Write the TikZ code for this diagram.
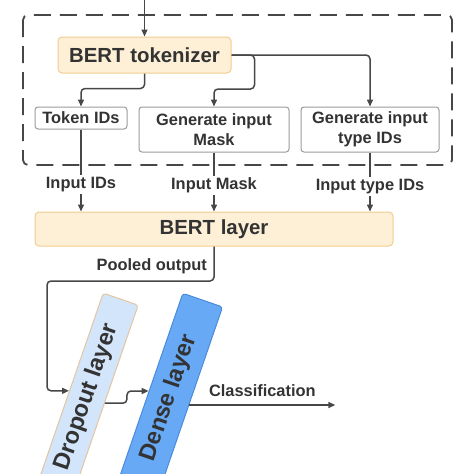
\documentclass[tikz,border=0pt]{standalone}
\usepackage{fontspec}
\setmainfont{Liberation Sans}
\usetikzlibrary{arrows.meta}
\definecolor{ink}{HTML}{333333}
\definecolor{wire}{HTML}{474747}
\definecolor{boxline}{HTML}{9B9B9B}
\definecolor{bertfill}{HTML}{FDF0D6}
\definecolor{bertline}{HTML}{F2CC8F}
\definecolor{dropfill}{HTML}{D3E5FB}
\definecolor{dropline}{HTML}{E2C6A2}
\definecolor{densefill}{HTML}{68A9F6}
\definecolor{denseline}{HTML}{4A8BDB}
\tikzset{
  small/.style={font=\bfseries\fontsize{16.4}{20}\selectfont, text=ink},
  stage/.style={small, draw=boxline, line width=1pt, fill=white, rounded corners=3pt, align=center},
  bert/.style={draw=bertline, fill=bertfill, line width=1pt, rounded corners=4pt, text=ink,
    font=\bfseries\fontsize{20.4}{24}\selectfont},
  layer/.style={rotate=71, line width=1pt, rounded corners=3pt, minimum width=207pt, text=ink,
    font=\bfseries\fontsize{23.5}{28}\selectfont},
  link/.style={draw=wire, line width=1.5pt},
  conn/.style={link, rounded corners=4pt, -{Triangle[length=7pt,width=6pt]}},
  dashbox/.style={draw=wire, line width=1.8pt, dash pattern=on 17pt off 9pt, rounded corners=5pt},
}
\begin{document}
\begin{tikzpicture}[x=1pt, y=-1pt]
  \useasboundingbox (0,0) rectangle (474,474);
  \clip (0,0) rectangle (474,474);

  % tokenizer block
  \draw[dashbox] (23,15) rectangle (452,165);
  \node[bert, minimum width=173pt, minimum height=36pt] (tok) at (144.5,55) {BERT tokenizer};
  \node[stage, minimum width=92pt, minimum height=22pt] (tokid) at (81,118) {Token IDs};
  \node[stage, minimum width=150pt, minimum height=45pt] (mask) at (214,129.5) {Generate input\\Mask};
  \node[stage, minimum width=138pt, minimum height=45pt] (typeid) at (370,129.5) {Generate input\\type IDs};
  \coordinate (text) at (144.5,-2);

  % inputs of the BERT layer
  \node[small, inner sep=2pt] (inids) at (81,184.5) {Input IDs};
  \node[small, inner sep=2pt] (inmask) at (214,185.5) {Input Mask};
  \node[small, inner sep=2pt] (intype) at (370,186.5) {Input type IDs};
  \node[bert, minimum width=358pt, minimum height=34pt] (bertl) at (214,229) {BERT layer};

  % classifier head
  \node[layer, draw=dropline, fill=dropfill, minimum height=37pt] (drop) at (87,397) {Dropout layer};
  \node[layer, draw=denseline, fill=densefill, minimum height=42pt] (dense) at (169,398) {Dense layer};
  \coordinate (bend) at (47,281);

  \draw[conn] (text) -- (tok.north);
  \draw[conn] (tok.south) -- ++(0,15) -| (tokid.north);
  \draw[conn] (tok.east) -| ++(23,34) -| (mask.north);
  \draw[conn] (tok.east) -| (typeid.north);
  \foreach \s/\l in {tokid/inids, mask/inmask, typeid/intype} {
    \draw[link] (\s) -- (\l);
    \draw[conn] (\l) -- (\l |- bertl.north);
  }
  \draw[conn] (bertl.south) |- (bend) node[pos=0.28, left=3pt, small] {Pooled output} |- (drop.north);
  \draw[conn] (drop.south) -- ++(22,0) |- (dense.north);
  \draw[conn] (dense.south) -- ++(146,0) node[midway, above=4.5pt, small] {Classification};
\end{tikzpicture}
\end{document}
